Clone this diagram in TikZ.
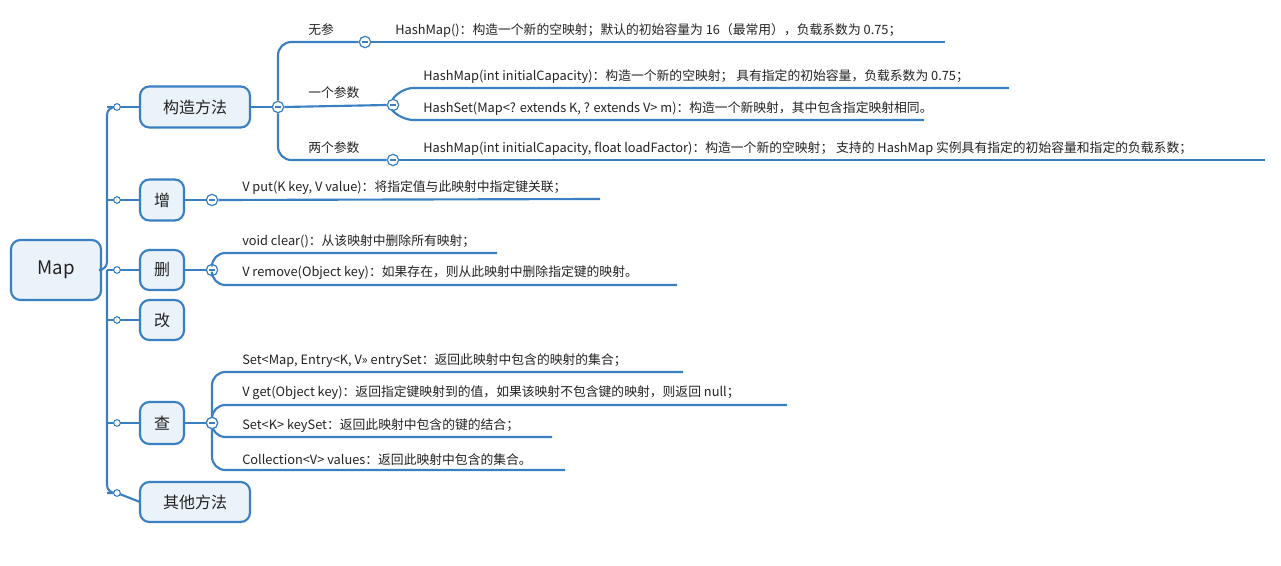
\documentclass[tikz,border=0pt]{standalone}
\usepackage{fontspec}
\setmainfont{Noto Sans CJK SC}
\definecolor{lc}{HTML}{3A7FC1}
\definecolor{bf}{HTML}{EAF2FA}
\definecolor{tx}{HTML}{222222}
\begin{document}
\begin{tikzpicture}[x=0.75pt,y=-0.75pt,
  ln/.style={draw=lc,line width=1.6pt},
  box/.style={draw=lc,line width=1.6pt,fill=bf,rounded corners=7pt,text=tx,font=\fontsize{12}{14}\selectfont,inner sep=0pt},
  col/.style={circle,draw=lc,fill=white,line width=0.9pt,minimum size=8.5pt,inner sep=0pt,
    path picture={\draw[lc,line width=0.9pt] ([xshift=-2.2pt]path picture bounding box.center) -- ([xshift=2.2pt]path picture bounding box.center);}},
  dot/.style={circle,draw=lc,fill=white,line width=0.8pt,minimum size=5pt,inner sep=0pt},
  leaf/.style={anchor=south west,inner sep=0pt,yshift=3.5pt,text=tx,font=\fontsize{9.6}{11}\selectfont},
  lab/.style={anchor=south west,inner sep=0pt,yshift=4.5pt,text=tx,font=\fontsize{9.6}{11}\selectfont}]
\useasboundingbox (0,0) rectangle (1281,566);
% root
\node[box,minimum width=67.5pt,minimum height=45pt,font=\fontsize{14}{16}\selectfont] (map) at (56,270) {Map};
\coordinate (t0) at (107,270);
\draw[ln,rounded corners=6pt] (map.east) -- (t0) |- (117,107);
\draw[ln,rounded corners=6pt] (t0) |- (117,493);
% level 1
\node[box,minimum width=82.5pt,minimum height=30.75pt] (k1) at (195,107) {构造方法};
\node[box,minimum width=33pt,minimum height=30.75pt] (k2) at (162,200) {增};
\node[box,minimum width=33pt,minimum height=30pt] (k3) at (162,270) {删};
\node[box,minimum width=33pt,minimum height=30pt] (k4) at (162,320) {改};
\node[box,minimum width=33pt,minimum height=31.5pt] (k5) at (162,423) {查};
\node[box,minimum width=82.5pt,minimum height=30pt] (k6) at (195,502) {其他方法};
\foreach \i/\y in {1/107,2/200,3/270,4/320,5/423} {
  \draw[ln] (107,\y) -- (k\i.west);
  \node[dot] (d\i) at (117,\y) {};
}
\draw[ln] (107,493) -- (117,493) -- (140,502) ;
\node[dot] (d6) at (117,493) {};
% 构造方法
\node[col] (c1) at (278,107) {};
\draw[ln] (k1.east) -- (c1);
\node[col] (c11) at (365,42) {};
\node[col] (c12) at (393,105) {};
\node[col] (c13) at (393,160) {};
\draw[ln,rounded corners=10pt] (c1.north) -- (278,42) -- (c11.west);
\draw[ln] (c1.east) -- (c12.west);
\draw[ln,rounded corners=10pt] (c1.south) -- (278,160) -- (c13.west);
\node[lab] (n11) at (308,42) {无参};
\node[lab] (n12) at (308,105) {一个参数};
\node[lab] (n13) at (308,160) {两个参数};
\node[leaf] (l11) at (395,42) {HashMap()：构造一个新的空映射；默认的初始容量为 16（最常用），负载系数为 0.75；};
\draw[ln] (c11.east) -- (945,42);
\node[leaf] (l121) at (423,88) {HashMap(int initialCapacity)：构造一个新的空映射； 具有指定的初始容量，负载系数为 0.75；};
\node[leaf] (l122) at (423,120) {HashSet(Map<? extends K, ? extends V> m)：构造一个新映射，其中包含指定映射相同。};
\draw[ln,rounded corners=10pt] (c12.north) -- (400,88) -- (1009,88);
\draw[ln,rounded corners=10pt] (c12.south) -- (400,120) -- (924,120);
\node[leaf] (l13) at (423,160) {HashMap(int initialCapacity, float loadFactor)：构造一个新的空映射； 支持的 HashMap 实例具有指定的初始容量和指定的负载系数；};
\draw[ln] (c13.east) -- (1265,160);
% 增
\node[col] (c2) at (212,200) {};
\draw[ln] (k2.east) -- (c2);
\node[leaf] (l2) at (242,199) {V put(K key, V value)：将指定值与此映射中指定键关联；};
\draw[ln] (c2.east) -- (600,199);
% 删
\node[col] (c3) at (212,270) {};
\draw[ln] (k3.east) -- (c3);
\node[leaf] (l31) at (242,253) {void clear()：从该映射中删除所有映射；};
\node[leaf] (l32) at (242,285) {V remove(Object key)：如果存在，则从此映射中删除指定键的映射。};
\draw[ln,rounded corners=10pt] (c3.north) -- (212,253) -- (497,253);
\draw[ln,rounded corners=10pt] (c3.south) -- (212,285) -- (677,285);
% 查
\node[col] (c5) at (212,423) {};
\draw[ln] (k5.east) -- (c5);
\node[leaf] (l51) at (242,372) {Set<Map, Entry<K, V>> entrySet：返回此映射中包含的映射的集合；};
\node[leaf] (l52) at (242,405) {V get(Object key)：返回指定键映射到的值，如果该映射不包含键的映射，则返回 null；};
\node[leaf] (l53) at (242,437) {Set<K> keySet：返回此映射中包含的键的结合；};
\node[leaf] (l54) at (242,470) {Collection<V> values：返回此映射中包含的集合。};
\draw[ln,rounded corners=10pt] (c5.north) -- (212,372) -- (683,372);
\draw[ln,rounded corners=10pt] (c5.north) -- (212,405) -- (787,405);
\draw[ln,rounded corners=10pt] (c5.south) -- (212,437) -- (552,437);
\draw[ln,rounded corners=10pt] (c5.south) -- (212,470) -- (565,470);
\node[col] at (c5) {};
\end{tikzpicture}
\end{document}
